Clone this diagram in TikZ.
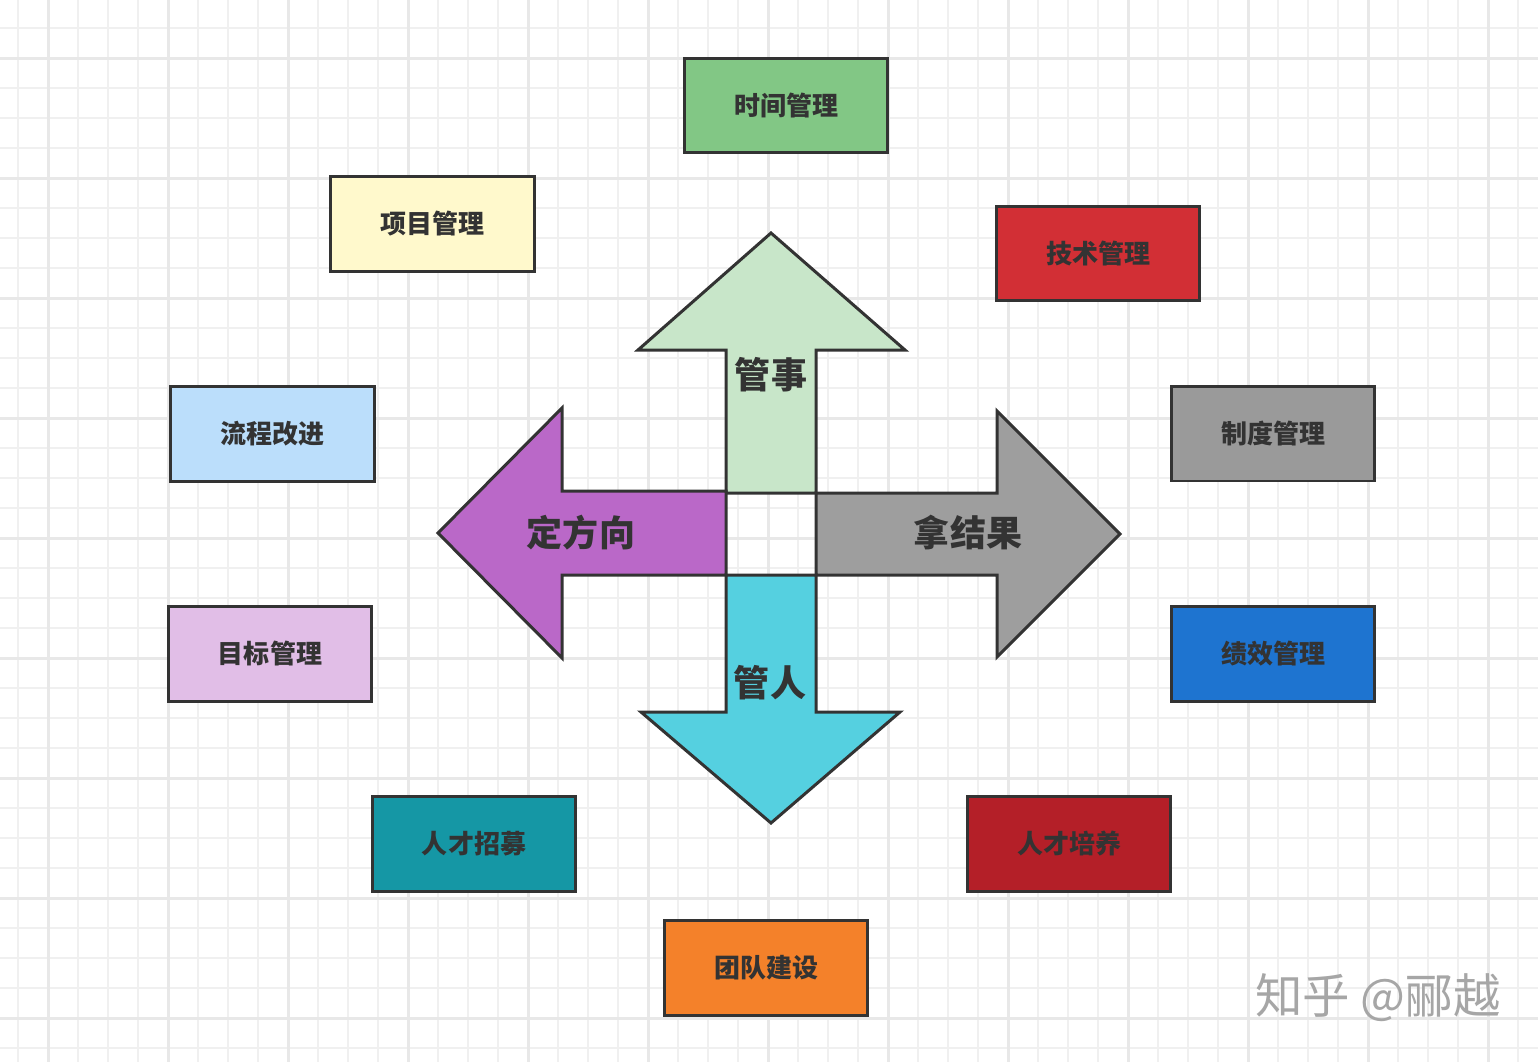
\documentclass[tikz,border=0pt]{standalone}
\usepackage{fontspec}
\setmainfont{Noto Sans CJK SC}
\definecolor{ink}{HTML}{333333}
\definecolor{gridminor}{HTML}{F0F0F0}
\definecolor{gridmajor}{HTML}{E8E8E8}
\begin{document}
\begin{tikzpicture}[
  x=0.02cm, y=-0.02cm, line width=0.06cm,
  every node/.style = {text=ink, font=\bfseries\fontsize{14.8}{18}\selectfont},
  topic/.style = {shape=rectangle, draw=ink, inner sep=0pt,
    minimum width=4.08cm, minimum height=1.9cm},
  big/.style = {font=\bfseries\fontsize{20.5}{24}\selectfont},
  bigarrow/.style = {draw=ink, line join=miter}
  ]
  \useasboundingbox (0,0) rectangle (1538,1062);
  \fill[white] (0,0) rectangle (1538,1062);
  \foreach \gx in {18,48,...,1538}
    \draw[gridminor, line width=0.04cm] (\gx,0) -- (\gx,1062);
  \foreach \gy in {28,58,...,1062}
    \draw[gridminor, line width=0.04cm] (0,\gy) -- (1538,\gy);
  \foreach \gx in {48,168,...,1538}
    \draw[gridmajor, line width=0.06cm] (\gx,0) -- (\gx,1062);
  \foreach \gy in {58,178,...,1062}
    \draw[gridmajor, line width=0.06cm] (0,\gy) -- (1538,\gy);

  \filldraw[bigarrow, fill={rgb,255:red,200;green,230;blue,201}]
    (726,493) -- (726,350) -- (638,350) -- (771,233) -- (905,350)
    -- (816,350) -- (816,493) -- cycle;
  \filldraw[bigarrow, fill={rgb,255:red,186;green,104;blue,200}]
    (726,491) -- (562,491) -- (562,408) -- (438,533) -- (562,658)
    -- (562,575) -- (726,575) -- cycle;
  \filldraw[bigarrow, fill={rgb,255:red,158;green,158;blue,158}]
    (816,493) -- (997,493) -- (997,411) -- (1120,534) -- (997,657)
    -- (997,575) -- (816,575) -- cycle;
  \filldraw[bigarrow, fill={rgb,255:red,85;green,208;blue,224}]
    (726,575) -- (726,712) -- (641,712) -- (771,823) -- (900,712)
    -- (816,712) -- (816,575) -- cycle;

  \node[big] (things) at (771,375) {管事};
  \node[big] (direction) at (581,533) {定方向};
  \node[big] (result) at (968,533) {拿结果};
  \node[big] (people) at (770,683) {管人};

  \node[topic, fill={rgb,255:red,130;green,199;blue,133}] (time) at (786,105.5) {时间管理};
  \node[topic, fill={rgb,255:red,255;green,249;blue,204}] (project) at (432.5,224) {项目管理};
  \node[topic, fill={rgb,255:red,210;green,47;blue,53}] (tech) at (1098,253.5) {技术管理};
  \node[topic, fill={rgb,255:red,187;green,222;blue,251}] (flow) at (272.5,434) {流程改进};
  \node[topic, fill={rgb,255:red,154;green,154;blue,154}] (rules) at (1273,433.5) {制度管理};
  \node[topic, fill={rgb,255:red,225;green,190;blue,231}] (goal) at (270,653.5) {目标管理};
  \node[topic, fill={rgb,255:red,30;green,116;blue,208}] (perf) at (1273,653.5) {绩效管理};
  \node[topic, fill={rgb,255:red,21;green,151;blue,165}] (recruit) at (474,843.5) {人才招募};
  \node[topic, fill={rgb,255:red,180;green,31;blue,40}] (train) at (1069,843.5) {人才培养};
  \node[topic, fill={rgb,255:red,244;green,129;blue,42}] (team) at (766,967.5) {团队建设};

  \node[text=black!35, font=\fontsize{27}{30}\selectfont] (mark) at (1378,998) {知乎 @郦越};
\end{tikzpicture}
\end{document}
